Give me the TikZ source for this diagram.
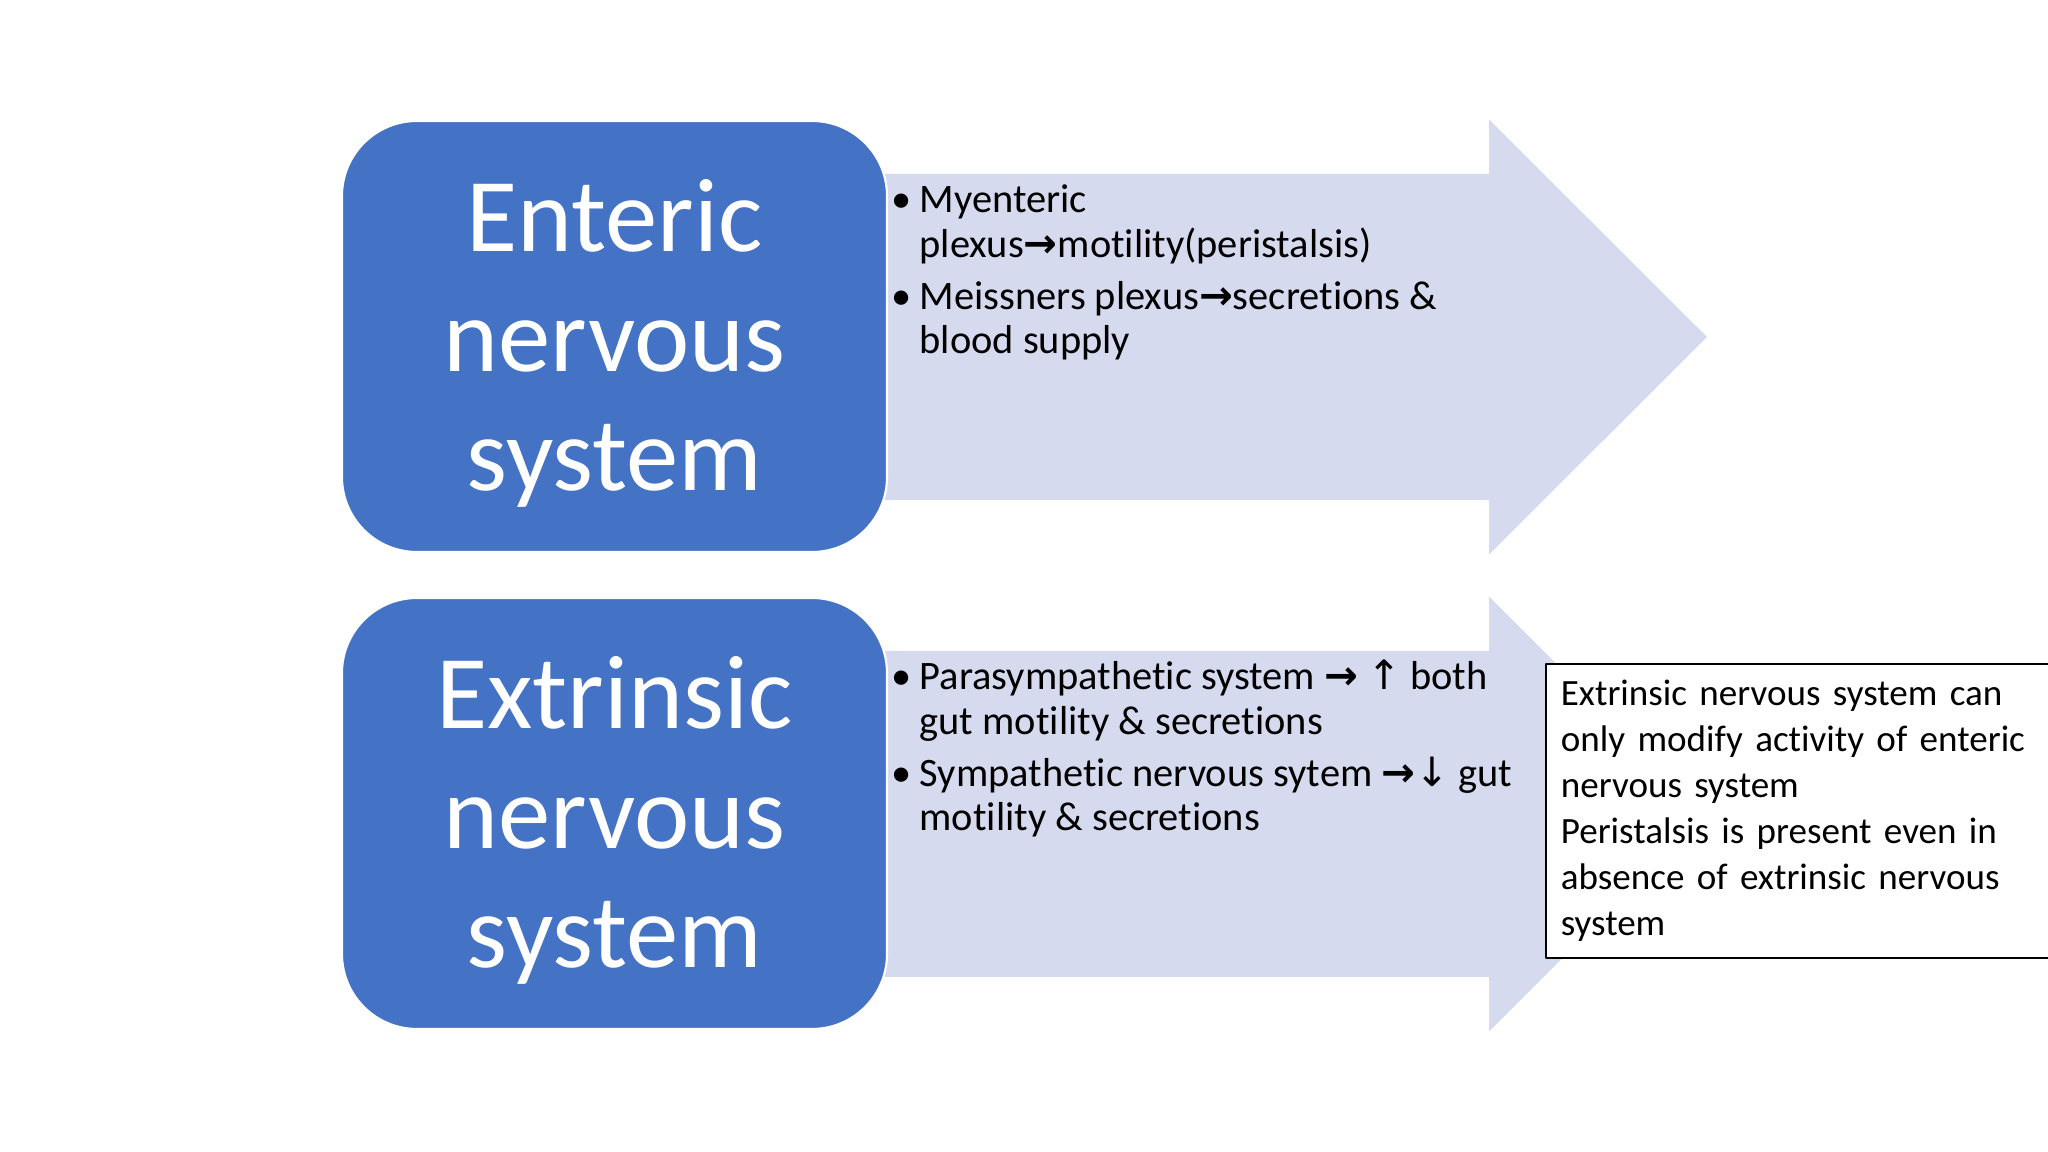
\documentclass[tikz,border=0pt]{standalone}
\usepackage{fontspec}
\setmainfont[RawFeature=-liga]{Carlito}
\newfontfamily\arrowfont{DejaVu Sans}
\definecolor{boxblue}{RGB}{68,114,196}
\definecolor{arrowfill}{RGB}{214,218,238}
\newcommand{\goesto}{{\arrowfont\bfseries →}}
\newcommand{\goesup}{{\arrowfont ↑}}
\newcommand{\goesdown}{{\arrowfont ↓}}
\newcommand{\dotmark}{\makebox[0.28cm][l]{•}}
\tikzset{
	sysbox/.style={fill=boxblue,draw=white,line width=0.6pt,rounded corners=0.75cm,
		minimum width=5.45cm,minimum height=4.31cm},
	systext/.style={text=white,align=center,inner sep=0pt,font=\fontsize{29.8}{33.9}\selectfont},
	bulletlist/.style={anchor=base west,inner sep=0pt,font=\fontsize{11.5}{12.6}\selectfont},
	notebox/.style={draw,fill=white,line width=0.5pt,anchor=north west,align=left,text width=4.85cm,
		inner xsep=0.15cm,minimum height=2.94cm,font=\fontsize{10.55}{13.1}\selectfont}
}
\begin{document}
\begin{tikzpicture}[line join=round]
			\useasboundingbox (0,0) rectangle (20.48,11.52);
			\def\bw{1.63}
			\def\hw{2.175}
			% big arrows
			\foreach \y in {8.15,3.38} {
				\path (8.5,\y-\bw) coordinate (A)
				(14.89,\y-\bw) coordinate (B)
				(14.89,\y-\hw) coordinate (C)
				(17.07,\y) coordinate (T)
				(14.89,\y+\hw) coordinate (D)
				(14.89,\y+\bw) coordinate (E)
				(8.5,\y+\bw) coordinate (F);
				\fill[arrowfill] (A)--(B)--(C)--(T)--(D)--(E)--(F)--cycle;
			}
			\node[sysbox] (enteric) at (6.145,8.155) {};
			\node[sysbox] (extrinsic) at (6.145,3.385) {};
			\node[systext] (entericname) at ([yshift=-0.07cm]enteric.center) {Enteric\\nervous\\system};
			\node[systext] (extrinsicname) at ([yshift=-0.07cm]extrinsic.center) {Extrinsic\\nervous\\system};
			\node[bulletlist] (entericlist) at (8.91,9.39) {\begin{tabular}[t]{@{}l@{}l@{}}
				\dotmark&Myenteric\\
				&plexus\goesto motility(peristalsis)\\[2.3pt]
				\dotmark&Meissners plexus\goesto secretions \&\\
				&blood supply
			\end{tabular}};
			\node[bulletlist] (extrinsiclist) at (8.91,4.62) {\begin{tabular}[t]{@{}l@{}l@{}}
				\dotmark&Parasympathetic system \goesto\ \goesup\ both\\
				&gut motility \& secretions\\[2.3pt]
				\dotmark&Sympathetic nervous sytem \goesto\goesdown\ gut\\
				&motility \& secretions
			\end{tabular}};
			\node[notebox] (note) at (15.45,4.89) {Extrinsic nervous system can\\
				only modify activity of enteric\\
				nervous system\\
				Peristalsis is present even in\\
				absence of extrinsic nervous\\
				system};
		\end{tikzpicture}
\end{document}
